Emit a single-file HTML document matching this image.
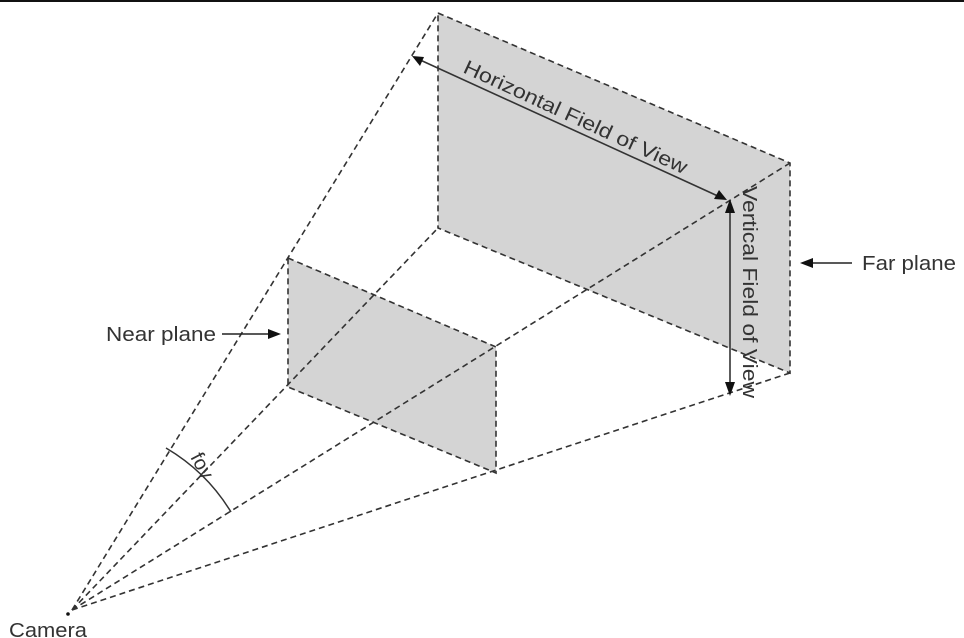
<!DOCTYPE html>
<html><head><meta charset="utf-8"><style>
html,body{margin:0;padding:0;background:#fff;}
svg{display:block;}
text{font-family:"Liberation Sans",sans-serif;fill:#333;font-size:20px;}
</style></head><body>
<svg width="964" height="638" viewBox="0 0 964 638" xmlns="http://www.w3.org/2000/svg">
<line x1="0" y1="1" x2="964" y2="1" stroke="#111" stroke-width="2"/>
<polygon points="438,13 790,163 790,373 438,228" fill="#d4d4d4"/>
<polygon points="288,258 496,347 496,473 288,387" fill="#d4d4d4"/>
<g stroke="#333" stroke-width="1.6" stroke-dasharray="6,4" fill="none">
<polygon points="438,13 790,163 790,373 438,228"/>
<polygon points="288,258 496,347 496,473 288,387"/>
<line x1="72" y1="610" x2="438" y2="13"/>
<line x1="72" y1="610" x2="438" y2="228"/>
<line x1="72" y1="610" x2="790" y2="163"/>
<line x1="72" y1="610" x2="790" y2="373"/>
</g>
<circle cx="68" cy="614" r="1.8" fill="#111"/>
<path d="M166,448 A187,187 0 0 1 231,512" stroke="#333" stroke-width="1.5" fill="none"/>
<text transform="translate(190,457) rotate(62)" font-size="18">fov</text>
<line x1="418" y1="59" x2="720" y2="197" stroke="#333" stroke-width="1.6"/>
<path d="M412,56 L424,57 L420,66 z" fill="#111"/>
<path d="M727,200 L714,199 L719,190 z" fill="#111"/>
<text transform="translate(462,72) rotate(24.8)" textLength="244" lengthAdjust="spacingAndGlyphs">Horizontal Field of View</text>
<line x1="730" y1="212" x2="730" y2="384" stroke="#333" stroke-width="1.6"/>
<path d="M730,199 L725,213 L735,213 z" fill="#111"/>
<path d="M730,396 L725,382 L735,382 z" fill="#111"/>
<text transform="translate(743,186) rotate(90)" textLength="212" lengthAdjust="spacingAndGlyphs">Vertical Field of View</text>
<line x1="812" y1="263" x2="852" y2="263" stroke="#222" stroke-width="1.6"/>
<path d="M800,263 L813,258 L813,268 z" fill="#111"/>
<text x="862" y="270" textLength="94" lengthAdjust="spacingAndGlyphs">Far plane</text>
<line x1="222" y1="334" x2="270" y2="334" stroke="#222" stroke-width="1.6"/>
<path d="M281,334 L268,329 L268,339 z" fill="#111"/>
<text x="106" y="341" textLength="110" lengthAdjust="spacingAndGlyphs">Near plane</text>
<text x="9" y="637" textLength="78" lengthAdjust="spacingAndGlyphs" font-size="18">Camera</text>
</svg>
</body></html>
